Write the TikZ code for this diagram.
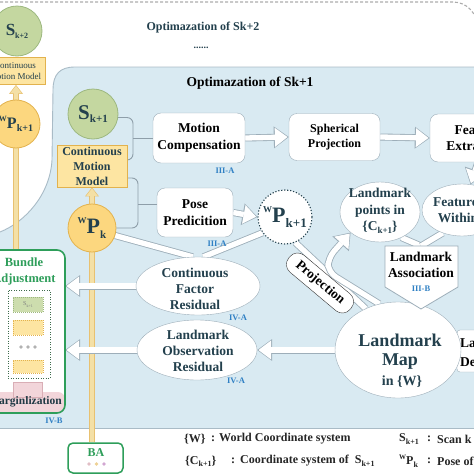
\documentclass[tikz,border=0pt]{standalone}
\usepackage{fontspec}
\setmainfont{Liberation Serif}
\usetikzlibrary{shapes.geometric,arrows.meta}
\definecolor{bluebg}{HTML}{D9EAF2}
\definecolor{bluebd}{HTML}{A9BBC6}
\definecolor{greenf}{HTML}{C4D7A0}
\definecolor{greenb}{HTML}{9DB880}
\definecolor{yelf}{HTML}{FCD77F}
\definecolor{yelb}{HTML}{E2B24E}
\definecolor{boxy}{HTML}{FDE5A2}
\definecolor{ylin}{HTML}{F4E0A6}
\definecolor{slate}{HTML}{23404D}
\definecolor{labblue}{HTML}{2F80C4}
\definecolor{bagreen}{HTML}{2E9E5A}
\definecolor{bandedge}{HTML}{9DAEB9}
\definecolor{conng}{HTML}{8E9EA9}
\definecolor{pinkf}{HTML}{F2D5DA}
\definecolor{pinkb}{HTML}{D9AEB6}
\definecolor{dotgreen}{HTML}{3E6B4C}
\definecolor{legtxt}{HTML}{262626}
\pgfdeclarelayer{bgl}
\pgfdeclarelayer{edl}
\pgfsetlayers{bgl,edl,main}
\newcommand{\fsz}[2]{\fontsize{#1}{#2}\selectfont}
\newcommand{\sbx}[2]{\raisebox{-0.4ex}{\fsz{#1}{#1}#2}}
\newcommand{\spx}[2]{\raisebox{1.0ex}{\fsz{#1}{#1}#2}}
\newcommand{\hband}[1]{%
  \draw[bandout] #1;
  \draw[bandin] #1;}
\newcommand{\harr}[1]{%
  \draw[bandout,-{Triangle[length=15pt,width=22pt,line width=0pt]}] #1;
  \draw[bandin,shorten >=1.3pt,-{Triangle[length=12.6pt,width=19pt,line width=0pt]}] #1;}
\newcommand{\yarr}[1]{%
  \draw[ybandout,-{Triangle[length=9pt,width=14pt,line width=0pt]}] #1;
  \draw[ybandin,shorten >=1pt,-{Triangle[length=7.4pt,width=11.4pt,line width=0pt]}] #1;}
\newcommand{\yband}[1]{%
  \draw[ybandout] #1;
  \draw[ybandin] #1;}
\tikzset{
  bandout/.style={line width=7pt, draw=bandedge},
  bandin/.style={line width=5.3pt, draw=white},
  ybandout/.style={line width=6pt, draw=yelb!80},
  ybandin/.style={line width=4.4pt, draw=ylin},
  conn/.style={draw=conng, line width=0.9pt, rounded corners=6pt},
  wbox/.style={draw=bandedge, fill=white, rounded corners=8pt, inner sep=0pt},
  ell/.style={ellipse, draw=bandedge, fill=white, inner sep=0pt},
  tb/.style={font=\fsz{13.5}{16.5}\bfseries, align=center, inner sep=0pt},
  ts/.style={font=\fsz{13.5}{16.5}\bfseries, text=slate, align=center, inner sep=0pt},
  lab/.style={font=\fsz{8.5}{10}\bfseries, text=labblue, inner sep=0pt},
  leg/.style={font=\fsz{12}{14}\bfseries, text=legtxt, inner sep=0pt, anchor=west},
  gcirc/.style={circle, fill=greenf, draw=greenb, line width=0.8pt, inner sep=0pt, text=slate, font=\bfseries},
  ycirc/.style={circle, fill=yelf, draw=yelb, line width=0.8pt, inner sep=0pt, text=slate, font=\bfseries},
  ybox/.style={rectangle, fill=boxy, draw=yelb, line width=0.8pt, inner sep=0pt, align=center, text=slate},
}
\begin{document}
\begin{tikzpicture}[x=1pt,y=-1pt]
\useasboundingbox (0,0) rectangle (474,474);
\clip (0,0) rectangle (474,474);

\begin{pgfonlayer}{bgl}
  \draw[gray!65, line width=1.1pt, dash pattern=on 3pt off 2pt, rounded corners=24pt] (-10,2) -- (477,2) -- (477,120);
  \fill[bluebg] (0,428) -- (480,428) -- (480,67) -- (75,67) .. controls (60,67) and (53,74) .. (53,90) -- (52,160) .. controls (50,195) and (25,222) .. (0,232) -- cycle;
  \draw[bluebd, line width=0.9pt] (480,67) -- (75,67) .. controls (60,67) and (53,74) .. (53,90) -- (52,160) .. controls (50,195) and (25,222) .. (0,232);
  \draw[bluebd, line width=0.9pt] (0,428) -- (480,428);
\end{pgfonlayer}

% titles
\node[ts, font=\fsz{12}{14}\bfseries] (t2) at (203,28) {Optimazation of Sk+2};
\node[ts, font=\fsz{10}{12}\bfseries] (tdots) at (201,48) {......};
\node[tb] (t1) at (250,83) {Optimazation of Sk+1};

% left column (Sk+2)
\node[gcirc, minimum size=50pt] (sk2) at (17,31) {\fsz{17}{17}S\sbx{8}{k+2}};
\node[ybox, minimum width=60pt, minimum height=27pt, font=\fsz{9}{11}] (cmm2) at (15,71) {Continuous\\Motion Model};
\node[ycirc, minimum size=48pt] (wpk1) at (16,124) {\fsz{16}{16}\spx{8}{W}P\sbx{10}{k+1}};

% Sk+1 column
\node[gcirc, minimum size=50pt] (sk1) at (93,114) {\fsz{21}{21}S\sbx{11}{k+1}};
\node[ybox, minimum width=70pt, minimum height=42pt, font=\fsz{12}{15}\bfseries] (cmm) at (92,166) {Continuous\\Motion\\Model};
\node[ycirc, minimum size=48pt] (wpk) at (92,228) {\fsz{22}{22}\spx{9}{W}P\sbx{11}{k}};

% boxes
\node[wbox, minimum width=92pt, minimum height=50pt] (mc) at (199,138) {};
\node[tb] (mct) at (mc.center) {Motion\\Compensation};
\node[wbox, minimum width=91pt, minimum height=47pt] (sp) at (334.5,137) {};
\node[tb, font=\fsz{12}{15}\bfseries] (spt) at (sp.center) {Spherical\\Projection};
\node[wbox, minimum width=98pt, minimum height=48pt] (fe) at (479,138) {};
\node[tb] (fet) at (477,138) {Feature\\Extraction};
\node[wbox, minimum width=76pt, minimum height=49pt] (pp) at (195,212.5) {};
\node[tb] (ppt) at (pp.center) {Pose\\Predicition};

% dotted predicted pose
\node[circle, minimum size=54pt, draw=slate, dash pattern=on 1.2pt off 1.8pt, line width=1.1pt, fill=white, inner sep=0pt, text=slate, font=\bfseries] (wpk1d) at (285,217) {\fsz{22}{22}\spx{9}{W}P\sbx{13}{k+1}};

% ellipses
\node[ell, minimum width=80pt, minimum height=60pt] (lmp) at (380,212) {};
\node[ts] (lmpt) at (380,211) {Landmark\\points in\\\{C\sbx{9}{k+1}\}};
\node[ell, minimum width=80pt, minimum height=52pt] (fw) at (462,210) {};
\node[ts] (fwt) at (458,210) {Features\\Within};
\node[ell, minimum width=124pt, minimum height=58pt] (cfr) at (198,286) {};
\node[ts, font=\fsz{13.5}{16}\bfseries] (cfrt) at (195,289) {Continuous\\Factor\\Residual};
\node[ell, minimum width=120pt, minimum height=60pt] (lor) at (197,350) {};
\node[ts, font=\fsz{13.5}{16}\bfseries] (lort) at (198,351) {Landmark\\Observation\\Residual};

% landmark detection box (clipped)
\node[draw=bandedge, fill=white, rounded corners=3pt, minimum width=60pt, minimum height=42pt, inner sep=0pt] (ld) at (487,351) {};
\node[tb, anchor=west, align=left, font=\fsz{13.5}{19}\bfseries] (ldt) at (460,352) {Landmark\\Detection};

% landmark map
\node[ell, minimum width=126pt, minimum height=96pt] (lm) at (398,350) {};
\node[ts, font=\fsz{18}{20}\bfseries] (lmt1) at (400,340) {Landmark};
\node[ts, font=\fsz{18}{20}\bfseries] (lmt2) at (400,362) {Map};
\node[ts, font=\fsz{14}{16}\bfseries] (lmt3) at (402,382) {in \{W\}};

% landmark association (pentagon)
\filldraw[fill=white, draw=bandedge, line width=0.8pt] (385,246) -- (458,246) -- (458,287) -- (421,309) -- (385,287) -- cycle;
\coordinate (latop) at (421,246);
\node[tb] (lat) at (421,265) {Landmark\\Association};

% blue section labels
\node[lab] (l1) at (225,171) {III-A};
\node[lab] (l2) at (217,244) {III-A};
\node[lab] (l3) at (421,289) {III-B};
\node[lab] (l4) at (238,318) {IV-A};
\node[lab] (l5) at (236,381) {IV-A};
\node[lab] (l6) at (54,421) {IV-B};

% bundle adjustment panel
\node[fill=white, minimum width=85pt, minimum height=163pt, inner sep=0pt, rounded corners=8pt] (ba) at (22.5,331.5) {};
\fill[pinkf, rounded corners=7pt] (-20,392) rectangle (65,413);
\draw[bagreen, line width=1.6pt, rounded corners=8pt] (-20,250) rectangle (65,413);
\node[font=\fsz{12.5}{16}\bfseries, text=bagreen, align=center, inner sep=0pt] (bat) at (24,271) {Bundle\\Adjustment};
\node[draw=dotgreen, dash pattern=on 1pt off 1.5pt, line width=1pt, minimum width=42pt, minimum height=88pt, inner sep=0pt] (dbox) at (29,334) {};
\node[fill=greenf!85, draw=greenb, dash pattern=on 1pt off 1pt, minimum width=30pt, minimum height=15pt, inner sep=0pt, text=gray, font=\fsz{6}{6}] (sbox) at (28,304.5) {S\sbx{4}{k+1}};
\node[fill=boxy, draw=yelb, dash pattern=on 1pt off 1pt, minimum width=30pt, minimum height=15pt, inner sep=0pt] (yb1) at (28,327.5) {};
\fill[gray!60] (21,347) circle (1.9) (28,347) circle (1.9) (35,347) circle (1.9);
\node[fill=boxy, draw=yelb, dash pattern=on 1pt off 1pt, minimum width=30pt, minimum height=13pt, inner sep=0pt] (yb2) at (28,366.5) {};
\node[fill=pinkf, draw=pinkb, minimum width=29pt, minimum height=15pt, inner sep=0pt] (pbox) at (27.5,389.5) {};
\node[ts, font=\fsz{11.5}{13}\bfseries, text=slate!90!black] (marg) at (25,402) {Marginlization};

% BA box
\node[draw=bagreen, line width=1.5pt, fill=white, rounded corners=5pt, minimum width=55pt, minimum height=30pt, inner sep=0pt] (bab) at (95.5,458) {};
\node[font=\fsz{12}{14}\bfseries, text=bagreen, inner sep=0pt] (babt) at (96,453) {BA};
\fill[pinkb!80] (89,464) circle (1.8);
\fill[yelb!60] (96.5,464) circle (1.8);
\fill[violet!35] (104,464) circle (1.8);

% projection label
\node[draw=black!80, fill=white, rounded corners=10pt, minimum width=80pt, minimum height=22pt, rotate=-40, font=\fsz{13.5}{16}\bfseries, inner sep=0pt] (proj) at (320,283) {Projection};

% legend
\node[leg] (lg1a) at (184,439) {\{W\}};
\node[leg] (lg1b) at (211,439) {:};
\node[leg] (lg1c) at (219,439) {World Coordinate system};
\node[leg] (lg2a) at (185,461) {\{C\sbx{8}{k+1}\}};
\node[leg] (lg2b) at (231,461) {:};
\node[leg] (lg2c) at (240,461) {Coordinate system of\ \ S\sbx{8}{k+1}};
\node[leg] (lg3a) at (399,439) {S\sbx{8}{k+1}};
\node[leg] (lg3b) at (427,439) {:};
\node[leg] (lg3c) at (437,439) {Scan k};
\node[leg] (lg4a) at (399,461) {\spx{7}{W}P\sbx{8}{k}};
\node[leg] (lg4b) at (427,461) {:};
\node[leg] (lg4c) at (437,461) {Pose of};

% connectors
\coordinate (ub) at (133,138);
\coordinate (ubb) at (127,160);
\coordinate (lbt) at (127,178);
\coordinate (lb) at (138,204);
\coordinate (feb) at (478,162);
\begin{pgfonlayer}{edl}
  \yband{(wpk1.south) -- (wpk1.south |- ba.north)}
  \yband{(wpk.south) -- (wpk.south |- bab.north)}
  \yarr{(wpk1.north) -- (wpk1.north |- cmm2.south)}
  \yarr{(wpk.north) -- (cmm.south)}
  \draw[conn] (sk1.-8) -| (ub) |- (ubb);
  \draw[conn] (ub) -- (mc.west);
  \draw[conn] (lbt) -| (lb) |- (wpk.east);
  \draw[conn] (lb) -- (pp.west |- lb);
  \harr{(mc.east) -- (sp.west)}
  \harr{(sp.east) -- (fe.west)}
  \harr{(feb) -- (fw)}
  \harr{(pp.east) -- (wpk1d.west)}
  \hband{(wpk.-18) -- (cfr.100)}
  \hband{(wpk1d.215) -- (cfr.80)}
  \hband{(lmp.-50) -- (latop)}
  \hband{(fw.230) -- (latop)}
  \hband{(wpk1d.-68) -- (lm.128)}
  \harr{[rounded corners=9pt] (lm.112) -- (328,272) -- (328,258) -- (lmp.215)}
  \harr{(lm.west) -- (lor.east)}
  \harr{(cfr.west) -- (cfr.west -| ba.east)}
  \harr{(lor.west) -- (lor.west -| ba.east)}
\end{pgfonlayer}
\end{tikzpicture}
\end{document}
